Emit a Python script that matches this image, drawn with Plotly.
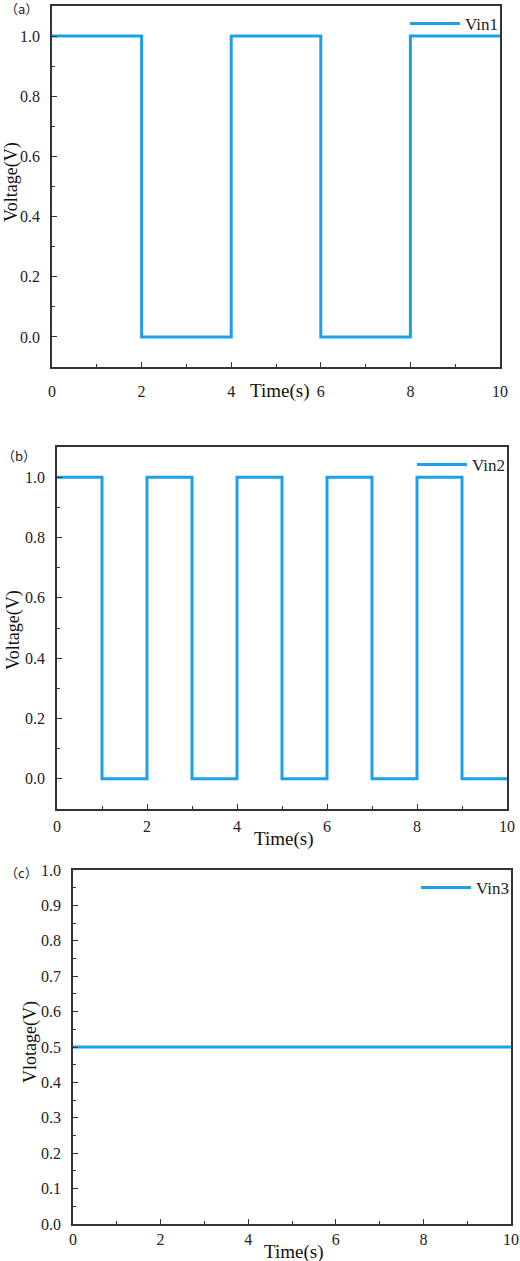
import plotly.graph_objects as go

# panel (a): Vin1, a 4 s period square wave
time_a = [0, 2, 4, 6, 8, 10]
vin1 = [1, 0, 1, 0, 1, 1]

# panel (b): Vin2, a 2 s period square wave
time_b = [0, 1, 2, 3, 4, 5, 6, 7, 8, 9, 10]
vin2 = [1, 0, 1, 0, 1, 0, 1, 0, 1, 0, 0]

# panel (c): Vin3, constant
time_c = [0, 10]
vin3 = [0.5, 0.5]

panel_labels = ["（a）", "（b）", "（c）"]
y_titles = ["Voltage(V)", "Voltage(V)", "Vlotage(V)"]
x_title = "Time(s)"

W, H = 520, 1261
BLUE = "#1E9FEA"
AXIS = "#333333"
SERIF = "Liberation Serif, Times New Roman, serif"
CJK = "'Noto Sans CJK SC', 'Noto Sans CJK JP', sans-serif"


def px_x(p):
    return p / W


def px_y(p):
    return 1 - p / H


fig = go.Figure()

fig.add_trace(go.Scatter(x=time_a, y=vin1, name="Vin1", mode="lines",
                         line=dict(color=BLUE, width=3, shape="hv"),
                         xaxis="x", yaxis="y", legend="legend"))
fig.add_trace(go.Scatter(x=time_b, y=vin2, name="Vin2", mode="lines",
                         line=dict(color=BLUE, width=3, shape="hv"),
                         xaxis="x2", yaxis="y2", legend="legend2"))
fig.add_trace(go.Scatter(x=time_c, y=vin3, name="Vin3", mode="lines",
                         line=dict(color=BLUE, width=3),
                         xaxis="x3", yaxis="y3", legend="legend3"))

# plot boxes in pixels: left, right, top, bottom
boxes = [(52, 500, 6, 367), (57, 507, 447, 809), (73, 511, 870, 1224)]
y_ranges = [[-0.1, 1.1], [-0.1, 1.1], [0, 1]]
y_dticks = [0.2, 0.2, 0.1]
x_standoff = [9, 2, 0]

axis_common = dict(showline=True, linecolor=AXIS, linewidth=1.5, mirror=True,
                   ticks="inside", ticklen=5, tickwidth=1.2, tickcolor=AXIS,
                   showgrid=False, zeroline=False, automargin=False,
                   tickfont=dict(family=SERIF, size=16, color="#222222"))

layout = {}
for i, (l, r, t, b) in enumerate(boxes):
    sx = "" if i == 0 else str(i + 1)
    layout["xaxis" + sx] = dict(
        axis_common, domain=[px_x(l), px_x(r)], range=[0, 10], dtick=2,
        anchor="y" + sx, ticklabelstandoff=x_standoff[i],
        minor=dict(ticks="inside", ticklen=3, dtick=1, tickcolor=AXIS,
                   tickwidth=1.2))
    layout["yaxis" + sx] = dict(
        axis_common, domain=[px_y(b), px_y(t)], range=y_ranges[i],
        dtick=y_dticks[i], tickformat=".1f", anchor="x" + sx,
        ticklabelstandoff=7,
        minor=dict(ticks="inside", ticklen=3, dtick=y_dticks[i] / 2,
                   tickcolor=AXIS, tickwidth=1.2))
    layout["legend" if i == 0 else "legend" + str(i + 1)] = dict(
        x=px_x(r + 3), y=px_y(t), xanchor="right", yanchor="top",
        bgcolor="rgba(0,0,0,0)", borderwidth=0, visible=True, itemwidth=50,
        font=dict(family=SERIF, size=17, color="#222222"))

fig.update_layout(**layout)

annotations = []
# panel labels
for lab, (xp, yp) in zip(panel_labels, [(21, 9), (19, 455), (21, 872)]):
    annotations.append(dict(text=lab, x=px_x(xp), y=px_y(yp), xref="paper",
                            yref="paper", xanchor="center", yanchor="middle",
                            showarrow=False,
                            font=dict(family=CJK, size=13, color="#222222")))
# axis titles
x_title_pos = [(279, 391), (283, 839), (293, 1252)]
y_title_pos = [(12, 182), (13, 630), (30, 1042)]
for i in range(3):
    annotations.append(dict(text=x_title, x=px_x(x_title_pos[i][0]),
                            y=px_y(x_title_pos[i][1]), xref="paper",
                            yref="paper", xanchor="center", yanchor="middle",
                            showarrow=False,
                            font=dict(family=SERIF, size=19, color="#111111")))
    annotations.append(dict(text=y_titles[i], x=px_x(y_title_pos[i][0]),
                            y=px_y(y_title_pos[i][1]), xref="paper",
                            yref="paper", xanchor="center", yanchor="middle",
                            showarrow=False, textangle=-90,
                            font=dict(family=SERIF, size=18, color="#111111")))

fig.update_layout(width=W, height=H, margin=dict(l=0, r=0, t=0, b=0),
                  paper_bgcolor="white", plot_bgcolor="white",
                  showlegend=True, annotations=annotations)

page_fix = ("document.documentElement.style.overflow='hidden';"
            "document.body.style.margin='0';"
            "document.body.style.overflow='hidden';")
fig.write_html("out.html", config={"displayModeBar": False},
               post_script=page_fix)
